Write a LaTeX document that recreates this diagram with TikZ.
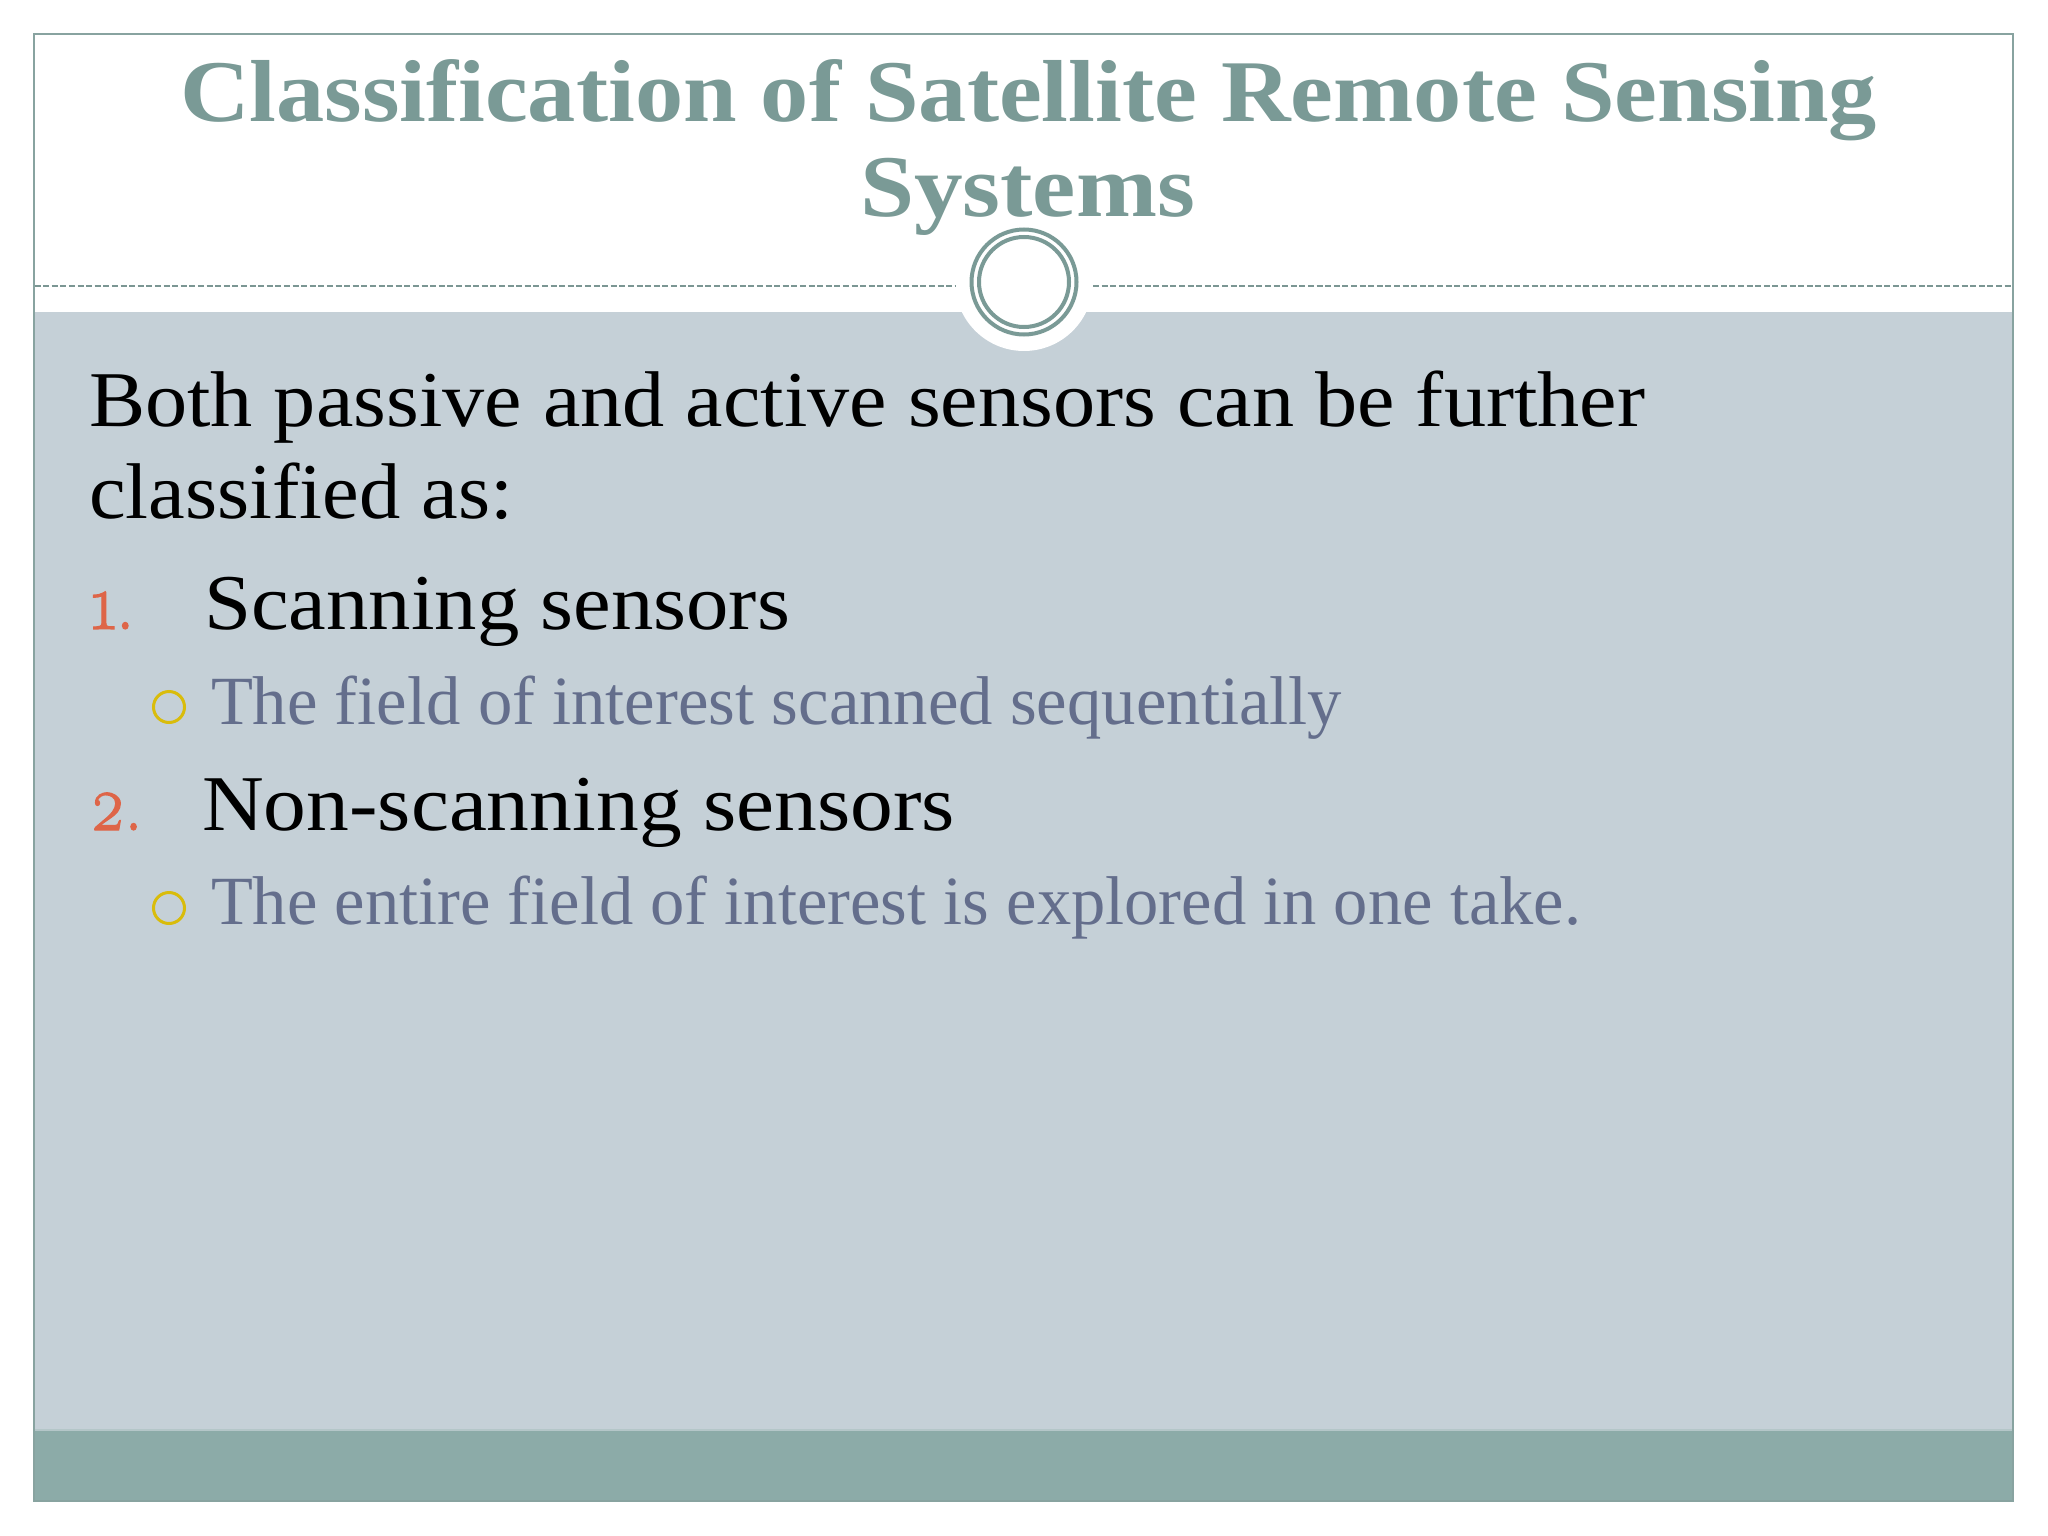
\documentclass[tikz,border=0pt]{standalone}
\usepackage{fontspec}
\usepackage{graphicx}
\setmainfont{Liberation Serif}
\newfontfamily\onumfont[Numbers=OldStyle,FakeBold=1.6]{Latin Modern Roman}
\definecolor{framec}{HTML}{88A3A0}
\definecolor{titlec}{HTML}{7A9A96}
\definecolor{panelc}{HTML}{C5D0D7}
\definecolor{footc}{HTML}{8CABA8}
\definecolor{footl}{HTML}{B4C6C8}
\definecolor{subc}{HTML}{646E8C}
\definecolor{numc}{HTML}{DE6548}
\definecolor{bulc}{HTML}{D9BC0B}
\newcommand{\fitw}[2]{\resizebox{#1pt}{\height}{#2}}
\tikzset{
  x=1pt,y=1pt,
  txt/.style={inner sep=0pt,outer sep=0pt,anchor=base west},
  titletxt/.style={inner sep=0pt,outer sep=0pt,anchor=base west,text=titlec,font=\fontsize{88}{88}\selectfont\bfseries},
  maintxt/.style={txt,text=black,font=\fontsize{79}{79}\selectfont},
  subtxt/.style={txt,text=subc,font=\fontsize{69}{69}\selectfont},
  numtxt/.style={txt,text=numc,font=\fontsize{80}{80}\selectfont\onumfont},
  bullet/.style={circle,draw=bulc,line width=3pt,minimum size=31pt,inner sep=0pt},
  ring/.style={circle,draw=titlec,line width=4pt,inner sep=0pt},
  rule/.style={draw=titlec!85!gray,line width=1.3pt,dash pattern=on 6pt off 2.6pt},
}
\begin{document}
\begin{tikzpicture}
\useasboundingbox (0,0) rectangle (2048,-1536);
\fill[white] (0,0) rectangle (2048,-1536);
% panels
\fill[panelc] (33.5,-312) rectangle (2013,-1430);
\fill[white] (1024,-282) circle (69);
\fill[white] (33.5,-34) rectangle (2013,-312);
\fill[footc] (33.5,-1430) rectangle (2013,-1501);
\draw[footl,line width=1.5pt] (33.5,-1430) -- (2013,-1430);
\draw[framec,line width=2pt] (33.5,-34) rectangle (2013,-1501);
% rule and ring
\coordinate (ruleL) at (34.5,-286);
\coordinate (ruleLe) at (956,-286);
\coordinate (ruleR) at (1093,-286);
\coordinate (ruleRe) at (2012,-286);
\draw[rule] (ruleL) -- (ruleLe);
\draw[rule] (ruleR) -- (ruleRe);
\node[ring,minimum size=105pt] (outer) at (1024,-282) {};
\node[ring,minimum size=90pt] (inner) at (1024,-282) {};
% title
\node[titletxt] (t1) at (180,-122) {\fitw{1697}{Classification of Satellite Remote Sensing}};
\node[titletxt] (t2) at (860,-216) {\fitw{335}{Systems}};
% body
\node[maintxt] (b1) at (89,-426) {\fitw{1556}{Both passive and active sensors can be further}};
\node[maintxt] (b2) at (89,-518) {\fitw{424}{classified as:}};
\node[numtxt] (n1) at (91,-629) {\fitw{43}{1.}};
\node[maintxt] (s1) at (204,-629) {\fitw{586}{Scanning sensors}};
\node[bullet] (c1) at (169,-707) {};
\node[subtxt] (d1) at (211,-724) {\fitw{1131}{The field of interest scanned sequentially}};
\node[numtxt] (n2) at (90,-830) {\fitw{52}{2.}};
\node[maintxt] (s2) at (202,-830) {\fitw{753}{Non-scanning sensors}};
\node[bullet] (c2) at (169,-908) {};
\node[subtxt] (d2) at (211,-924) {\fitw{1370}{The entire field of interest is explored in one take.}};
\end{tikzpicture}
\end{document}
